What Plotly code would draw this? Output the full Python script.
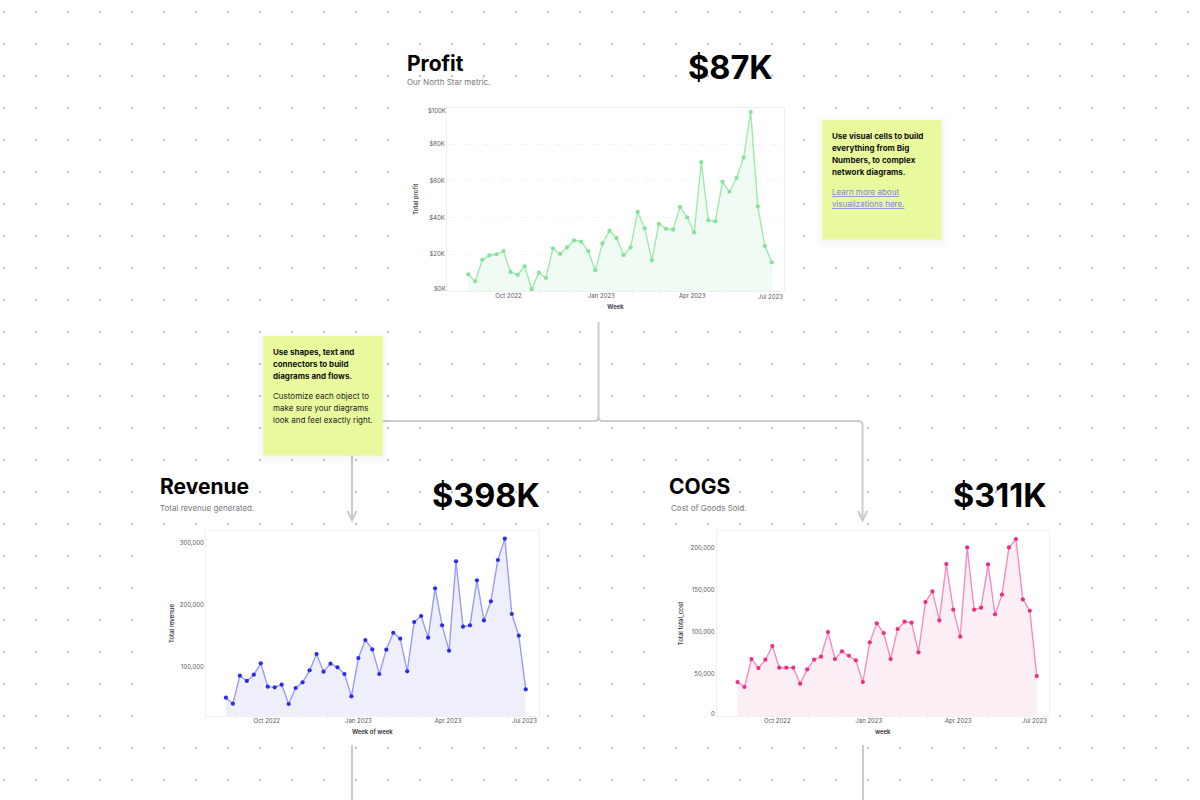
import numpy as np
import pandas as pd
import plotly.graph_objects as go

profit_values = [9100, 5300, 17000, 19400, 20000, 21800, 10400, 8800, 13500, 1000, 10000, 7200, 23300, 20200, 23800,
                 27600, 26900, 21800, 11300, 25900, 32800, 28800, 19600, 23800, 43100, 34100, 16700, 36600, 33900,
                 33400, 45800, 40200, 31900, 70200, 38600, 38000, 59500, 54100, 61700, 72700, 97500, 46100, 24500, 15600]
revenue_values = [49700, 40000, 85400, 76800, 87000, 105400, 67600, 66500, 70800, 39500, 65400, 74600, 94000, 120500,
                  91900, 104900, 98900, 88100, 51900, 114000, 143200, 128000, 88100, 127600, 155000, 145400, 92400,
                  172400, 182200, 147000, 227000, 167000, 126000, 270800, 164900, 167000, 240000, 175000, 206000,
                  273000, 307600, 185400, 150300, 63200]
cogs_values = [40300, 34400, 67600, 56900, 66800, 83000, 57300, 57300, 57300, 38300, 55300, 66800, 70400, 99600, 67600,
               76700, 71500, 66000, 40300, 87400, 109900, 98400, 67600, 103200, 111900, 110700, 75500, 135200, 147800,
               113400, 180200, 126100, 94100, 200000, 126100, 128500, 179800, 120600, 143900, 200000, 209900, 138300,
               124900, 47400]
weeks_monday = pd.date_range("2022-08-22", periods=44, freq="7D")
weeks_sunday = pd.date_range("2022-08-21", periods=44, freq="7D")

month_ticks = ["2022-09-01", "2022-10-01", "2022-11-01", "2022-12-01", "2023-01-01", "2023-02-01",
               "2023-03-01", "2023-04-01", "2023-05-01", "2023-06-01"]
month_labels = ["", "Oct 2022", "", "", "Jan 2023", "", "", "Apr 2023", "", ""]
x_range = ["2022-08-01", "2023-07-01"]

W, H = 1200, 800
INK = "#000000"
GREY = "#77777c"
TICK = "#55555a"
TITLE = "#2e2e34"
FONT = "Inter"
CONNECTOR = "#cbcbcb"
STICKY = "#e9f99d"

charts = [
    dict(name="Profit", x=weeks_monday, y=profit_values, box=(447, 107.5, 784, 291), yrange=[0, 100000],
         yticks=[20000, 40000, 60000, 80000], ylabels=["$20K", "$40K", "$60K", "$80K"], ystand=9.5,
         xtitle="Week", ytitle="Total profit", line="#9fe9ae", marker="#85e29a", fill="#f0fbf3", grid=True),
    dict(name="Revenue", x=weeks_sunday, y=revenue_values, box=(206, 531, 538.7, 716), yrange=[20000, 320000],
         yticks=[100000, 200000, 300000], ylabels=["100,000", "200,000", "300,000"], ystand=4.5,
         xtitle="Week of week", ytitle="Total revenue", line="#9a9af7", marker="#2b2bf0", fill="#efeffc", grid=False),
    dict(name="COGS", x=weeks_monday, y=cogs_values, box=(716.7, 531, 1048.7, 716), yrange=[0, 219500],
         yticks=[50000, 100000, 150000, 200000], ylabels=["50,000", "100,000", "150,000", "200,000"], ystand=6,
         xtitle="week", ytitle="Total total_cost", line="#f48dc0", marker="#ee2d84", fill="#fbeef5", grid=False),
]

fig = go.Figure()

# Dotted canvas, left out where the white chart cards and the sticky notes sit
hidden = [(407, 95, 790, 318), (155, 526, 545, 742), (668, 526, 1055, 742), (822, 120, 942, 240), (263, 336, 383, 456)]
dx, dy = np.meshgrid(np.arange(4, W, 32), np.arange(12, H, 32))
keep = np.ones(dx.shape, bool)
for a, b, c, d in hidden:
    keep &= ~((dx >= a) & (dx <= c) & (dy >= b) & (dy <= d))
fig.add_trace(go.Scatter(x=dx[keep], y=dy[keep], mode="markers", xaxis="x", yaxis="y", hoverinfo="skip",
                         marker=dict(size=2.4, color="#c4c4c4"), showlegend=False))

layout = dict(
    width=W, height=H, margin=dict(l=0, r=0, t=0, b=0), paper_bgcolor="white", plot_bgcolor="white",
    showlegend=False, font=dict(family=FONT, color=TICK),
    xaxis=dict(domain=[0, 1], range=[0, W], visible=False, fixedrange=True),
    yaxis=dict(domain=[0, 1], range=[H, 0], visible=False, fixedrange=True),
)

for i, c in enumerate(charts, start=2):
    x0, y0, x1, y1 = c["box"]
    fig.add_trace(go.Scatter(
        x=c["x"], y=c["y"], xaxis=f"x{i}", yaxis=f"y{i}", mode="lines+markers", fill="tozeroy",
        fillcolor=c["fill"], line=dict(color=c["line"], width=1.4), marker=dict(color=c["marker"], size=4.2),
        name=c["name"], showlegend=False))
    layout[f"xaxis{i}"] = dict(
        domain=[x0 / W, x1 / W], anchor=f"y{i}", type="date", range=x_range, tickmode="array",
        tickvals=month_ticks, ticktext=month_labels, ticks="outside", ticklen=2, tickcolor="#ececec", tickwidth=0.7,
        ticklabelstandoff=-3, tickfont=dict(size=6, color=TICK, family=FONT), showgrid=False, showline=True,
        linecolor="#f0f0f0", linewidth=1, mirror=True, zeroline=False,
        title=dict(text=c["xtitle"], font=dict(size=6, color=TITLE, family=FONT, weight=600), standoff=5))
    layout[f"yaxis{i}"] = dict(
        domain=[1 - y1 / H, 1 - y0 / H], anchor=f"x{i}", range=c["yrange"], tickmode="array",
        tickvals=c["yticks"], ticktext=c["ylabels"], ticks="", tickfont=dict(size=6, color=TICK, family=FONT),
        showgrid=c["grid"], gridcolor="#f5f5f5", griddash="dash", gridwidth=0.7, showline=True, linecolor="#f0f0f0",
        linewidth=1, mirror=True, zeroline=False,
        title=dict(text=c["ytitle"], font=dict(size=6, color=TITLE, family=FONT, weight=500), standoff=c["ystand"]))


def text(px, py, s, size, color=INK, weight=400, anchor="left", angle=0):
    return dict(x=px, y=py, xref="x", yref="y", text=s, showarrow=False, xanchor=anchor, yanchor="middle",
                borderpad=0, borderwidth=0, textangle=angle, font=dict(family=FONT, size=size, color=color, weight=weight))


notes = [
    (407, 63, "Profit", 21, INK, 700, "left"), (407, 82, "Our North Star metric.", 8, GREY, 400, "left"),
    (773, 67, "$87K", 32.5, INK, 700, "right"),
    (160, 486.5, "Revenue", 21, INK, 700, "left"), (160, 508, "Total revenue generated.", 8, GREY, 400, "left"),
    (540, 495, "$398K", 32.5, INK, 700, "right"),
    (669, 486.5, "COGS", 21, INK, 700, "left"), (671, 508, "Cost of Goods Sold.", 8, GREY, 400, "left"),
    (1047, 495, "$311K", 32.5, INK, 700, "right"),
    (445.5, 288, "$0K", 6, TICK, 400, "right"), (445.5, 110, "$100K", 6, TICK, 400, "right"),
    (715, 713, "0", 6, TICK, 400, "right"),
    (783, 296, "Jul 2023", 6, TICK, 400, "right"), (537, 720.7, "Jul 2023", 6, TICK, 400, "right"),
    (1047, 720.7, "Jul 2023", 6, TICK, 400, "right"),
]
for j, line in enumerate(["Use visual cells to build", "everything from Big", "Numbers, to complex", "network diagrams."]):
    notes.append((832.3, 135.7 + 12 * j, line, 8, "#111111", 700, "left"))
for j, line in enumerate(["Learn more about", "visualizations here."]):
    notes.append((832.3, 191.7 + 12 * j, f"<u>{line}</u>", 8, "#7f7fe8", 400, "left"))
for j, line in enumerate(["Use shapes, text and", "connectors to build", "diagrams and flows."]):
    notes.append((272.7, 351.7 + 12 * j, line, 8, "#111111", 700, "left"))
for j, line in enumerate(["Customize each object to", "make sure your diagrams", "look and feel exactly right."]):
    notes.append((272.7, 395.7 + 12 * j, line, 8, "#222222", 400, "left"))
layout["annotations"] = [text(a, b, s, z, col, wt, an) for a, b, s, z, col, wt, an in notes]

shapes = []
conn = dict(type="path", xref="x", yref="y", layer="below", line=dict(color=CONNECTOR, width=2))
for path in [
    "M598.5,322 L598.5,417 Q598.5,421 594.5,421 L356,421 Q352,421 352,425 L352,520",
    "M598.5,417 Q598.5,421 602.5,421 L858.5,421 Q862.5,421 862.5,425 L862.5,520",
    "M347.5,511 L352,520.5 L356.5,511",
    "M858,511 L862.5,520.5 L867,511",
    "M352,745 L352,800",
    "M863,745 L863,800",
]:
    shapes.append(dict(conn, path=path))
for a, b, c, d in [(822.3, 120, 941.7, 239.5), (263.3, 336, 382.7, 455.5)]:
    for grow, op in [(8, 0.004), (6, 0.006), (4, 0.008), (2, 0.01)]:
        shapes.append(dict(type="rect", xref="x", yref="y", layer="below", x0=a - grow, x1=c + grow, y0=b - grow + 3,
                           y1=d + grow + 3, fillcolor=f"rgba(0,0,0,{op})", line=dict(width=0)))
    shapes.append(dict(type="rect", xref="x", yref="y", layer="below", x0=a, x1=c, y0=b, y1=d, fillcolor=STICKY,
                       line=dict(width=0)))
layout["shapes"] = shapes

fig.update_layout(**layout)
fig.write_html("out.html", config={"displayModeBar": False},
               post_script="document.body.style.margin='0';document.body.style.overflow='hidden';")
